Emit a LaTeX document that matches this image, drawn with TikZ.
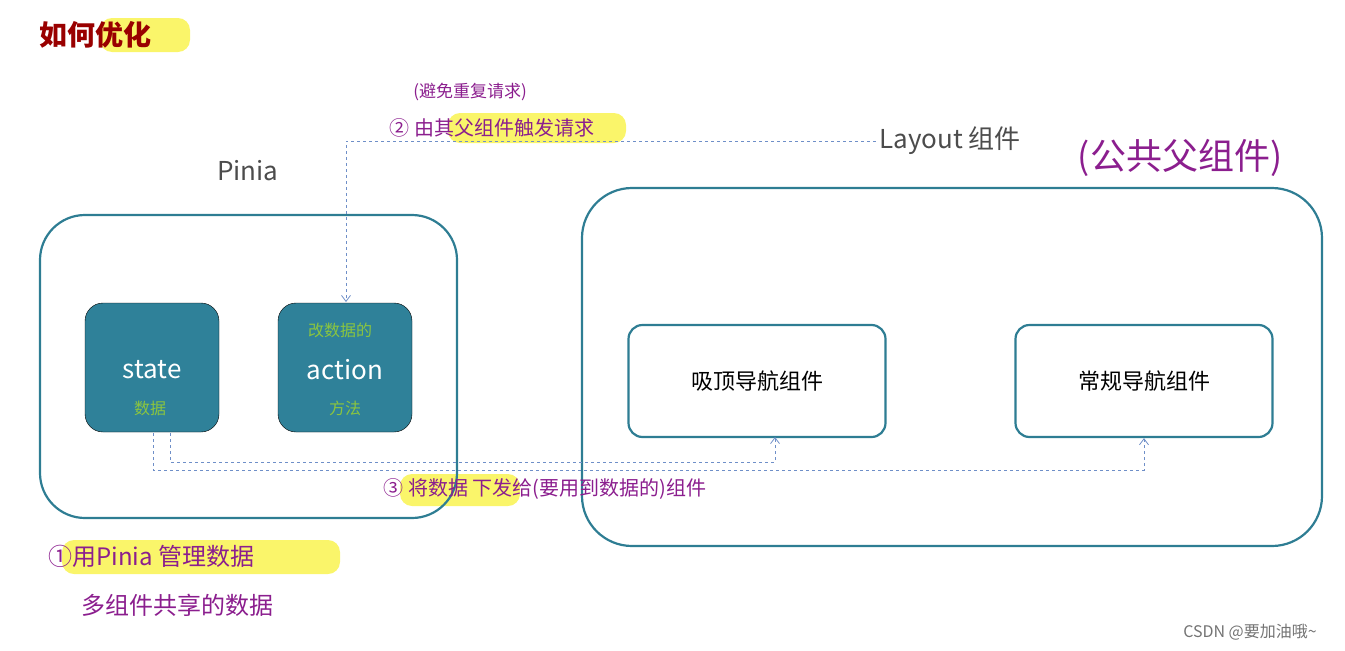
\documentclass[tikz,border=0pt]{standalone}
\usepackage{fontspec}
\setmainfont{Noto Sans CJK SC}
\newfontfamily\cjk{Noto Sans CJK SC}
\usetikzlibrary{arrows.meta}
\definecolor{teal1}{HTML}{2E7D93}
\definecolor{tealfill}{HTML}{2F8199}
\definecolor{purp}{HTML}{8B1E8E}
\definecolor{hl}{HTML}{FAF56A}
\definecolor{hgreen}{HTML}{8BC53F}
\definecolor{dash}{HTML}{6F8FC8}
\tikzset{
 bigbox/.style={draw=teal1,line width=2.2pt,rounded corners=45pt},
 fillbox/.style={fill=tealfill,rounded corners=18pt,text=white,font=\fontsize{24}{28}\selectfont},
 navbox/.style={draw=teal1,line width=2.2pt,rounded corners=14pt,fill=white,font=\fontsize{22}{26}\selectfont},
 dline/.style={draw=dash,dashed,line width=0.8pt},
 darr/.style={dline,-{Straight Barb[length=6pt,width=9pt]}},
 hand/.style={text=purp,font=\fontsize{20}{24}\selectfont},
 green/.style={text=hgreen,font=\fontsize{16}{18}\selectfont},
 hlbox/.style={fill=hl,rounded corners=12pt},
}
\begin{document}
\begin{tikzpicture}[x=1pt,y=-1pt]
\useasboundingbox (0,0) rectangle (1345,651);
% highlights
\fill[hlbox] (100,18) rectangle (190,52);
\fill[hlbox] (448,113) rectangle (626,143);
\fill[hlbox] (400,474) rectangle (520,506);
\fill[hlbox] (62,540) rectangle (340,574);
% title
\node[anchor=west,text=red!60!black,font=\fontsize{28}{32}\selectfont\bfseries] (title) at (36,35) {如何优化};
% Pinia
\node[text=black!70,font=\fontsize{26}{30}\selectfont] (pinialbl) at (248,171) {Pinia};
\draw[bigbox] (40,215) rectangle (457,518);
\draw[fillbox] (85,303) rectangle (219,432);
\node[text=white,font=\fontsize{26}{30}\selectfont] (state) at (152,370) {state};
\draw[fillbox] (278,303) rectangle (412,432);
\node[text=white,font=\fontsize{26}{30}\selectfont] (action) at (345,370) {action};
\coordinate (actiontop) at (346,302);
\node[green] (sd) at (150,408) {数据};
\node[green] (ad1) at (340,330) {改数据的};
\node[green] (ad2) at (345,408) {方法};
% Layout
\node[text=black!70,font=\fontsize{26}{30}\selectfont] (layoutlbl) at (950,141) {Layout 组件};
\node[text=purp,font=\fontsize{36}{40}\selectfont] (pub) at (1180,158) {(公共父组件)};
\draw[bigbox,rounded corners=50pt] (582,188) rectangle (1322,546);
\node[navbox,minimum width=257pt,minimum height=112pt] (nav1) at (757,381) {吸顶导航组件};
\node[navbox,minimum width=257pt,minimum height=112pt] (nav2) at (1144,381) {常规导航组件};
% dashed connectors
\draw[darr] (layoutlbl.west) -- (346,141) -- (actiontop);
\coordinate (s1) at (153,433);
\coordinate (s2) at (170,433);
\draw[darr] (s1) -- (153,470) -- (1144,470) -- (nav2.south);
\draw[darr] (s2) -- (170,462) -- (775,462) -- (775,437);
% handwriting
\node[hand,font=\fontsize{17}{20}\selectfont] (n0) at (470,92) {(避免重复请求)};
\node[hand] (n2) at (492,128) {② 由其父组件触发请求};
\node[hand] (n3) at (545,489) {③ 将数据 下发给(要用到数据的)组件};
\node[hand,font=\fontsize{24}{28}\selectfont,anchor=west] (n1) at (45,556) {①用Pinia 管理数据};
\node[hand,font=\fontsize{24}{28}\selectfont,anchor=west] (n1b) at (78,605) {多组件共享的数据};
\node[text=black!55,font=\fontsize{16}{20}\selectfont] (csdn) at (1250,632) {CSDN @要加油哦\textasciitilde};
\end{tikzpicture}
\end{document}
